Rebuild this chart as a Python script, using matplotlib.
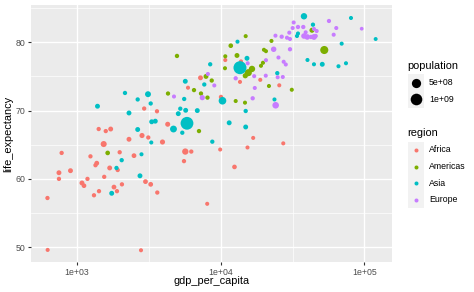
import numpy as np
import matplotlib
matplotlib.use("Agg")
import matplotlib.pyplot as plt
from matplotlib.patches import Rectangle

plt.rcParams['font.family'] = ['Liberation Sans', 'DejaVu Sans']

# values (gdp per capita, life expectancy, population in millions)
africa_gdp = [623, 625, 749, 749, 782, 901, 1083, 1119, 1183, 1241, 1313, 1345, 1373, 1416,
              1423, 1534, 1547, 1586, 1689, 1716, 1809, 1898, 1920, 1982, 2055, 2301, 2493,
              2789, 2834, 2935, 2997, 3135, 3258, 3604, 3621, 3936, 4278, 5672, 5922, 6244,
              5555, 7236, 8057, 9921, 10048, 10765, 12477, 13625, 13847, 15366, 16835,
              18862, 25572, 27264]
africa_life = [57.2, 49.6, 60.9, 60.0, 63.8, 61.2, 59.4, 59.0, 60.0, 63.3, 57.6, 62.0, 62.3,
               67.3, 58.2, 65.1, 60.3, 67.0, 61.6, 67.3, 58.8, 58.2, 61.3, 63.9, 59.2, 65.8,
               63.4, 49.55, 66.35, 70.3, 59.6, 66.06, 59.2, 69.9, 58.0, 65.4, 68.0, 64.0,
               73.35, 64.0, 62.6, 74.8, 56.35, 64.3, 72.0, 77.4, 61.75, 74.2, 77.2, 64.6,
               66.0, 74.5, 73.7, 65.2]
africa_pop = [10, 5, 30, 10, 10, 30, 30, 20, 10, 10, 10, 10, 25, 10,
              10, 100, 10, 10, 30, 30, 25, 10, 10, 10, 10, 30, 25,
              5, 40, 10, 25, 10, 25, 10, 10, 40, 35, 120, 5, 10,
              10, 30, 5, 5, 10, 5, 20, 5, 5, 5, 5,
              5, 5, 5]

americas_gdp = [1635, 4299, 4965, 6521, 7064, 7295, 7902, 8094, 8662, 10713, 10765, 11757,
                12719, 12986, 14763, 14834, 14930, 15565, 16513, 19072, 19690, 20007,
                20659, 21675, 22561, 31252, 43184, 52594]
americas_life = [63.8, 72.5, 78.0, 73.0, 67.0, 72.5, 75.0, 71.9, 74.4, 76.2, 77.95, 79.5,
                 71.4, 78.07, 71.16, 75.1, 80.9, 75.55, 76.1, 76.56, 77.0, 78.9,
                 78.7, 73.6, 80.2, 73.05, 81.76, 78.87]
americas_pop = [20, 10, 11, 10, 10, 10, 30, 10, 10, 5, 5, 20,
                5, 30, 5, 45, 5, 200, 125, 5, 5, 5,
                5, 5, 5, 5, 36, 320]

asia_gdp = [1389, 2047, 2158, 2301, 2645, 2645, 2744, 2811, 1744, 1883, 3120, 3258, 3289,
            3310, 3507, 4694, 5069, 5235, 5406, 5572, 5672, 5707, 5828, 6875, 7690, 8454,
            8744, 10292, 11460, 13091, 13625, 14930, 14930, 15242, 23676, 24764, 33963,
            34510, 37990, 40183, 43878, 44591, 50936, 66036, 69508, 74473, 80688, 119830]
asia_life = [70.64, 62.74, 72.58, 69.65, 71.63, 67.23, 60.45, 63.6, 57.89, 61.6, 72.4, 71.04,
             65.33, 68.36, 68.45, 67.3, 69.55, 70.28, 66.76, 71.7, 74.29, 70.04, 68.14, 70.0,
             73.82, 76.78, 65.45, 71.44, 68.21, 80.09, 76.28, 69.94, 67.6, 77.66, 71.63,
             75.48, 80.92, 81.29, 83.81, 77.41, 82.58, 76.78, 76.78, 76.49, 79.8, 76.93,
             83.56, 80.48]
asia_pop = [30, 10, 10, 30, 10, 30, 30, 5, 30, 10, 90, 10, 5,
            30, 30, 170, 30, 10, 10, 10, 30, 30, 1310, 30, 10, 10,
            10, 260, 30, 5, 1370, 10, 30, 30, 5, 10, 5,
            5, 127, 5, 10, 5, 30, 5, 5, 5, 5, 3]

europe_gdp = [4732, 7447, 8146, 9028, 12719, 15416, 16700, 17106, 17272, 20595, 20659,
              23373, 24057, 24135, 24924, 25244, 26576, 27051, 27440, 28379, 28933, 30023,
              30364, 30364, 31696, 32211, 34510, 37565, 39036, 37990, 40054, 42494, 44591,
              45819, 44591, 46565, 56701, 63739, 61150, 95807]
europe_life = [72.06, 71.89, 75.36, 73.68, 74.73, 76.93, 71.8, 75.04, 73.31, 75.11, 77.38,
               78.98, 80.97, 70.78, 74.88, 77.77, 80.82, 74.92, 77.15, 76.75, 80.67, 81.41,
               80.48, 78.98, 82.09, 82.9, 82.24, 82.24, 81.46, 80.92, 80.78, 80.78, 80.78,
               80.92, 81.95, 81.65, 83.12, 82.09, 81.11, 81.99]
europe_pop = [5, 45, 5, 5, 10, 5, 10, 5, 5, 5, 5,
              60, 5, 144, 5, 5, 10, 5, 5, 5, 5, 5,
              5, 10, 5, 5, 10, 10, 5, 65, 65, 10, 80,
              10, 5, 5, 8, 5, 5, 1]

regions = ['Africa', 'Americas', 'Asia', 'Europe']
colors = ['#F8766D', '#7CAE00', '#00BFC4', '#C77CFF']
region_data = [(africa_gdp, africa_life, africa_pop),
               (americas_gdp, americas_life, americas_pop),
               (asia_gdp, asia_life, asia_pop),
               (europe_gdp, europe_life, europe_pop)]

size_breaks = [5e8, 1e9]
size_labels = ['5e+08', '1e+09']
POP_MAX = 1.37e9
PX = 0.72  # points per pixel at dpi 100


def point_size(pop):
    # diameter in px, area scaled like ggplot's scale_size
    d = 3.5 + 9.5 * np.sqrt(np.asarray(pop, dtype=float) / POP_MAX)
    return (d * PX) ** 2


fig = plt.figure(figsize=(4.74, 2.92), dpi=100)
ax = fig.add_axes([31 / 474, 30 / 292, 361 / 474, 257 / 292])
ax.set_facecolor('#EBEBEB')
for s in ax.spines.values():
    s.set_visible(False)

for (g, l, p), c in zip(region_data, colors):
    ax.scatter(g, l, s=point_size(np.array(p) * 1e6), color=c, linewidths=0, zorder=3)

ax.set_xscale('log')
ax.set_xlim(478.6, 155700)
ax.set_ylim(47.83, 85.46)
ax.set_xticks([1e3, 1e4, 1e5])
ax.set_xticklabels(['1e+03', '1e+04', '1e+05'])
ax.set_xticks([10 ** 3.5, 10 ** 4.5], minor=True)
ax.set_xticklabels([], minor=True)
ax.set_yticks([50, 60, 70, 80])
ax.set_yticks([55, 65, 75, 85], minor=True)
ax.grid(which='major', color='white', linewidth=1.0, zorder=0)
ax.grid(which='minor', color='white', linewidth=0.5, zorder=0)
ax.set_axisbelow(True)
ax.tick_params(which='major', length=2.2, width=0.8, color='#333333',
               labelsize=6.3, labelcolor='#4D4D4D', pad=1.8)
ax.tick_params(which='minor', length=0)

fig.text(211.5 / 474, 1 - 281 / 292, 'gdp_per_capita', fontsize=7.9,
         ha='center', va='center')
fig.text(8 / 474, 1 - 133.5 / 292, 'life_expectancy', fontsize=7.9,
         ha='center', va='center', rotation=90)

# legends drawn in pixel space on an overlay
lax = fig.add_axes([0, 0, 1, 1])
lax.set_xlim(0, 474)
lax.set_ylim(292, 0)
lax.axis('off')

key_x, key_w = 416, 16.6
lax.text(407.5, 66, 'population', fontsize=7.9, ha='left', va='center')
for i, (b, lab) in enumerate(zip(size_breaks, size_labels)):
    y = 82.7 + i * 16.6
    lax.add_patch(Rectangle((key_x - key_w / 2, y - key_w / 2), key_w, key_w,
                            color='#F2F2F2', lw=0))
    lax.scatter([key_x], [y], s=point_size(b), color='black', linewidths=0)
    lax.text(429, y, lab, fontsize=6.3, ha='left', va='center')

lax.text(407.5, 133, 'region', fontsize=7.9, ha='left', va='center')
for i, (r, c) in enumerate(zip(regions, colors)):
    y = 150 + i * 16.5
    lax.add_patch(Rectangle((key_x - key_w / 2, y - key_w / 2), key_w, key_w,
                            color='#F2F2F2', lw=0))
    lax.scatter([key_x], [y], s=(4 * PX) ** 2, color=c, linewidths=0)
    lax.text(429, y, r, fontsize=6.3, ha='left', va='center')

fig.savefig('out.png', dpi=100)
